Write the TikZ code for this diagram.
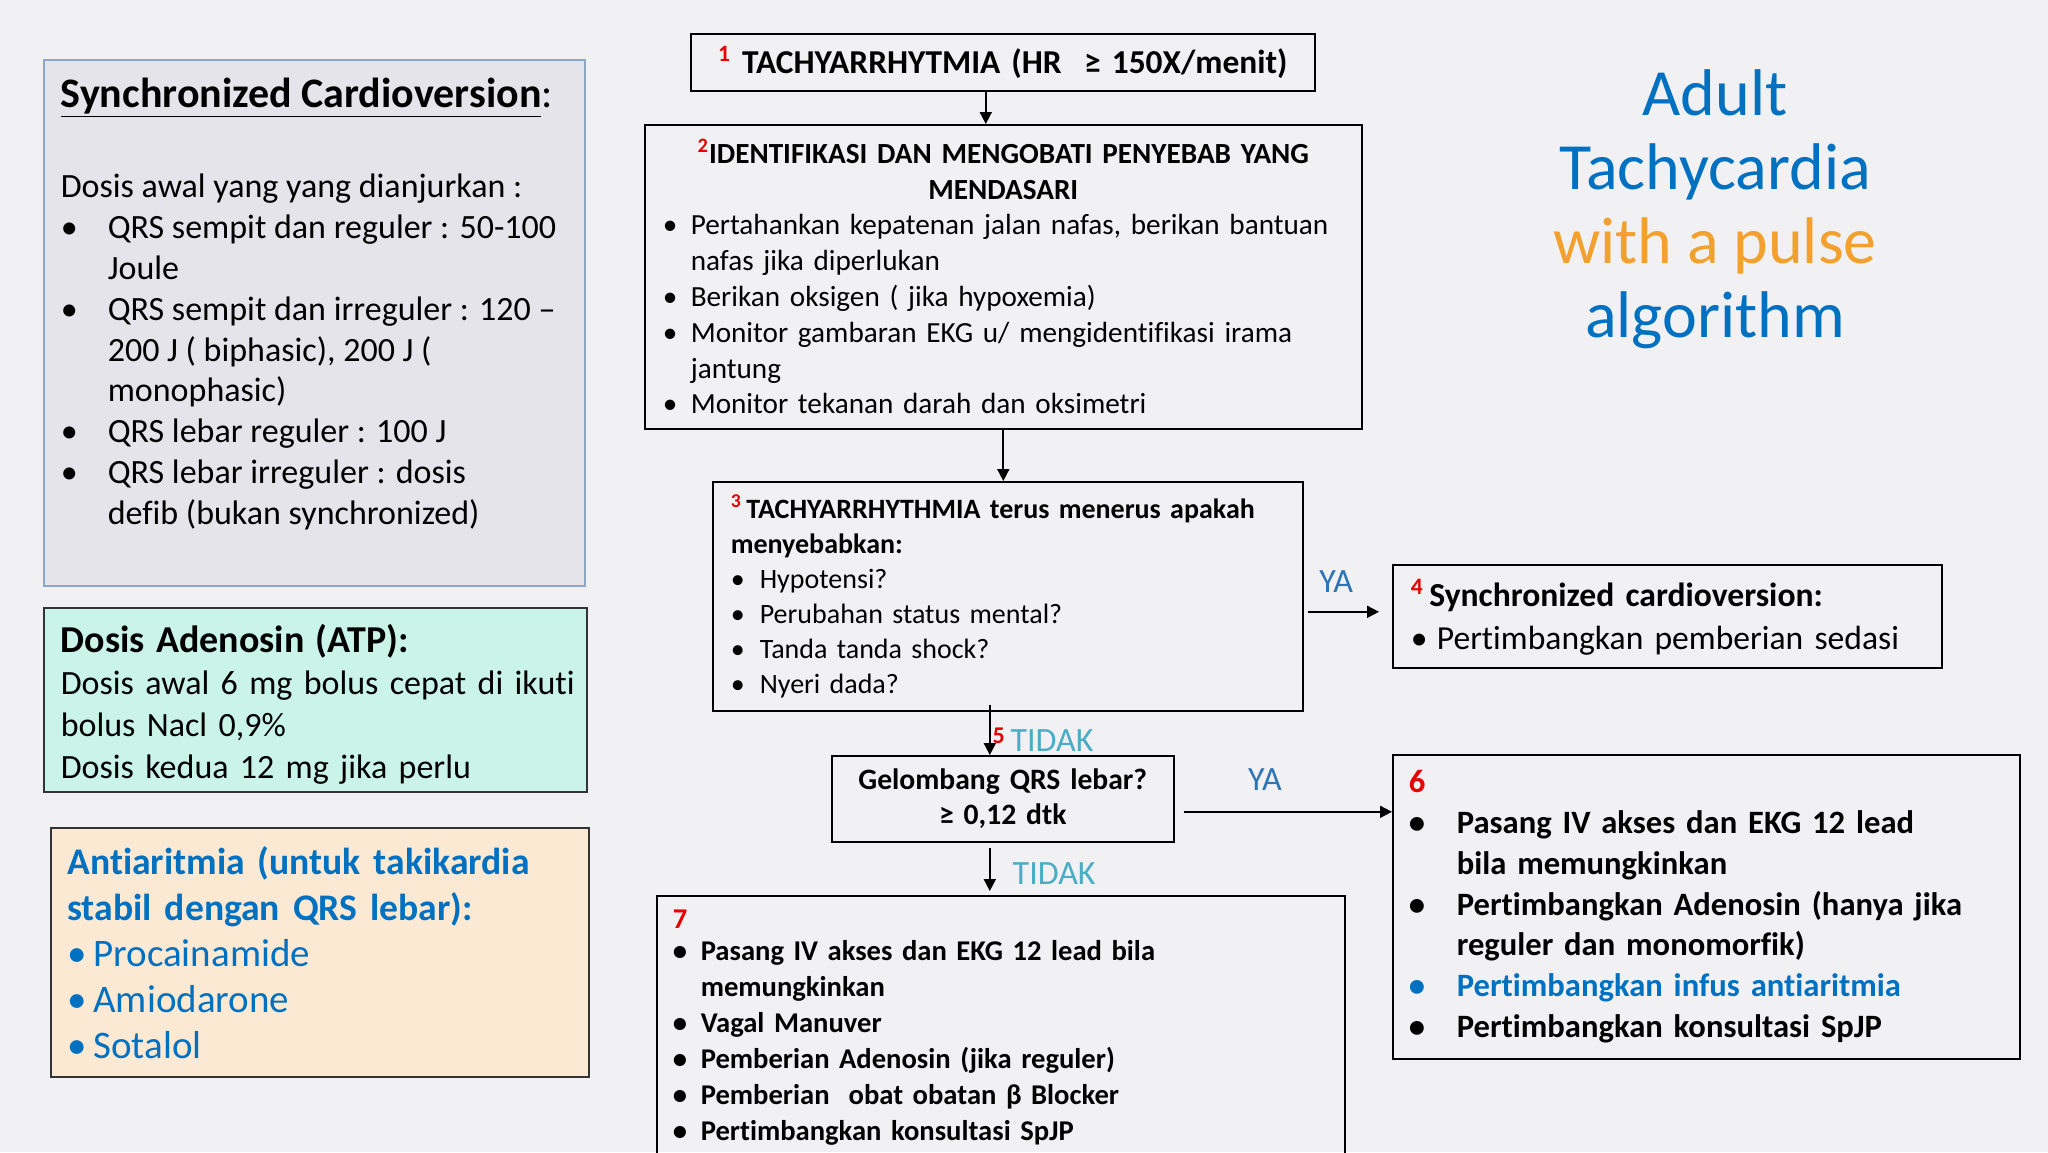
\documentclass[tikz,border=0pt]{standalone}
\usepackage{fontspec}
\setmainfont{Carlito}[Ligatures=CommonOff]
\usepackage{xcolor}
\usepackage{tikz}
\usetikzlibrary{arrows.meta, positioning, calc}
\setlength{\parskip}{0pt}
\setlength{\parindent}{0pt}

\definecolor{slidebg}{HTML}{F1F1F3}
\definecolor{syncfill}{HTML}{E4E4EA}
\definecolor{syncline}{HTML}{8DA7C6}
\definecolor{adenofill}{HTML}{C9F4E7}
\definecolor{antifill}{HTML}{FCE9D3}
\definecolor{ttlblue}{HTML}{0070C0}
\definecolor{ttlorange}{HTML}{F2A12E}
\definecolor{numred}{HTML}{E60000}
\definecolor{yablue}{HTML}{2E75B6}
\definecolor{tidakblue}{HTML}{4BACC6}

\newcommand\stepno[1]{\textcolor{numred}{\textsuperscript{#1}}}
\newcommand\bul[2]{\par\hangindent=#1\hangafter=1\noindent\makebox[#1][l]{\textbullet}#2}
\newcommand\fsz[2]{\fontsize{#1}{#2}\selectfont}

\tikzset{
  flowbox/.style ={rectangle, draw, line width=0.8pt, anchor=north west, inner ysep=0pt, align=left},
  sidebox/.style ={rectangle, draw, line width=0.8pt, anchor=north west, inner ysep=0pt, align=left},
  fl/.style      ={-{Triangle[length=6pt,width=6pt]}, line width=0.9pt},
  lbl/.style     ={inner sep=0pt, font=\fsz{17}{20}},
}

\begin{document}
\begin{tikzpicture}[x=1pt, y=-1pt, >=Latex]
  \useasboundingbox (0,0) rectangle (1024,576);
  \fill[slidebg] (0,0) rectangle (1024,576);
  \clip (0,0) rectangle (1024,576);

  % left column
  \node[sidebox, fill=syncfill, draw=syncline, inner xsep=8.5pt] (sync) at (21.5,29.5)
    {\parbox[c][263pt][t]{253.5pt}{\raggedright\vspace*{9pt}%
     {\fsz{21}{25}\bfseries\underline{Synchronized Cardioversion}}{\fsz{21}{25}:}\par
     \fsz{17}{20.4}\vspace{24.9pt}%
     Dosis awal yang yang dianjurkan :
     \bul{23.5pt}{QRS sempit dan reguler : 50-100\newline Joule}
     \bul{23.5pt}{QRS sempit dan irreguler : 120 –\newline 200 J ( biphasic), 200 J (\newline monophasic)}
     \bul{23.5pt}{QRS lebar reguler : 100 J}
     \bul{23.5pt}{QRS lebar irreguler : dosis\newline defib (bukan synchronized)}}};
  \node[sidebox, fill=adenofill, draw=black!80, inner xsep=8.5pt, text width=254.5pt,
        minimum height=92pt, font=\fsz{17}{21}] (adeno) at (21.5,303.5)
    {{\fsz{19}{21}\bfseries\rule{0pt}{18.3pt}Dosis Adenosin (ATP):}\par
     \mbox{Dosis awal 6 mg bolus cepat di ikuti}\newline bolus Nacl 0,9\%\newline Dosis kedua 12 mg jika perlu};
  \node[sidebox, fill=antifill, draw=black!80, inner xsep=8.3pt, text width=252.4pt,
        minimum height=124.5pt, text=ttlblue, font=\fsz{19.5}{23}] (anti) at (25,413.5)
    {{\fsz{18.8}{23}\bfseries Antiaritmia (untuk takikardia\newline stabil dengan QRS lebar):}
     \bul{13pt}{Procainamide}
     \bul{13pt}{Amiodarone}
     \bul{13pt}{Sotalol}};

  % flow
  \node[flowbox, text width=300pt, inner xsep=6pt, minimum height=28.5pt, align=center,
        font=\fsz{16.7}{20}\bfseries] (b1) at (345,16.5)
    {\stepno{1} TACHYARRHYTMIA (HR\ \ ≥ 150X/menit)};
  \node[flowbox, text width=340.5pt, inner xsep=9pt, minimum height=152pt,
        font=\fsz{14.6}{17.9}] (b2) at (322,62)
    {{\centering\bfseries\stepno{2}IDENTIFIKASI DAN MENGOBATI PENYEBAB YANG\\ MENDASARI\par}
     \bul{14pt}{Pertahankan kepatenan jalan nafas, berikan bantuan\newline nafas jika diperlukan}
     \bul{14pt}{Berikan oksigen ( jika hypoxemia)}
     \bul{14pt}{Monitor gambaran EKG u/ mengidentifikasi irama\newline jantung}
     \bul{14pt}{Monitor tekanan darah dan oksimetri}};
  \node[flowbox, text width=277pt, inner xsep=9pt, minimum height=114.5pt,
        font=\fsz{14}{17.5}] (b3) at (356,240.5)
    {{\bfseries\stepno{3}\,TACHYARRHYTHMIA terus menerus apakah\newline menyebabkan:}
     \bul{14.5pt}{Hypotensi?}
     \bul{14.5pt}{Perubahan status mental?}
     \bul{14.5pt}{Tanda tanda shock?}
     \bul{14.5pt}{Nyeri dada?}};
  \node[flowbox, text width=256.5pt, inner xsep=9pt, minimum height=51.5pt,
        font=\fsz{16.8}{21.5}] (b4) at (696,282)
    {{\bfseries\rule{0pt}{14.7pt}\stepno{4}\,Synchronized cardioversion:}
     \bul{13pt}{Pertimbangkan pemberian sedasi}};
  \node[flowbox, text width=159pt, inner xsep=6pt, minimum height=43pt, align=center,
        font=\fsz{14.8}{17.6}\bfseries] (b5) at (415.5,377.5)
    {Gelombang QRS lebar?\\ ≥ 0,12 dtk};
  \node[flowbox, text width=297.5pt, inner xsep=8pt, minimum height=152pt,
        font=\fsz{16.3}{20.4}\bfseries] (b6) at (696,377)
    {{\color{numred}6}
     \bul{24pt}{Pasang IV akses dan EKG 12 lead\newline bila memungkinkan}
     \bul{24pt}{Pertimbangkan Adenosin (hanya jika\newline reguler dan monomorfik)}
     {\color{ttlblue}\bul{24pt}{Pertimbangkan infus antiaritmia}\par}
     \bul{24pt}{Pertimbangkan konsultasi SpJP}};
  \node[flowbox, text width=328pt, inner xsep=8pt, inner ysep=7pt,
        font=\fsz{14.3}{18}\bfseries] (b7) at (328,447.5)
    {{\color{numred}7}\par\vspace{-2pt}
     \bul{14pt}{Pasang IV akses dan EKG 12 lead bila\newline memungkinkan}
     \bul{14pt}{Vagal Manuver}
     \bul{14pt}{Pemberian Adenosin (jika reguler)}
     \bul{14pt}{Pemberian\ \ obat obatan β Blocker}
     \bul{14pt}{Pertimbangkan konsultasi SpJP}\par\vspace*{20pt}};

  % title
  \node[align=center, text=ttlblue, font=\fsz{33}{37}] (title) at (857.5,104.5)
    {Adult\\Tachycardia\\{\color{ttlorange}with a pulse}\\algorithm};

  % connectors
  \draw[fl] ([xshift=-8.5pt]b1.south) -- ([xshift=-8.5pt]b1.south |- b2.north);
  \draw[fl] (b2.south) -- (b2.south |- b3.north);
  \draw[fl] ([xshift=2pt,yshift=2.25pt]b4.west -| b3.east)
    -- node[lbl, text=yablue, above=9pt, pos=0.4]{YA} ([xshift=-6.5pt,yshift=2.25pt]b4.west);
  \draw[fl] ([xshift=-6.5pt,yshift=3.5pt]b5.north |- b3.south)
    -- node[lbl, right=1pt, pos=0.7]{{\color{numred}\raisebox{4pt}{\fsz{12}{12}\bfseries 5}}\,{\color{tidakblue}TIDAK}}
    ([xshift=-6.5pt]b5.north);
  \draw[fl] ([xshift=4.5pt,yshift=-6.5pt]b5.east)
    -- node[lbl, text=yablue, above=10pt, pos=0.39]{YA} ([yshift=-6.5pt]b5.east -| b6.west);
  \draw[fl] ([xshift=-6.5pt,yshift=-2.5pt]b5.south)
    -- node[lbl, text=tidakblue, right=11pt, pos=0.6]{TIDAK} ([xshift=-6.5pt,yshift=2pt]b5.south |- b7.north);
\end{tikzpicture}
\end{document}
